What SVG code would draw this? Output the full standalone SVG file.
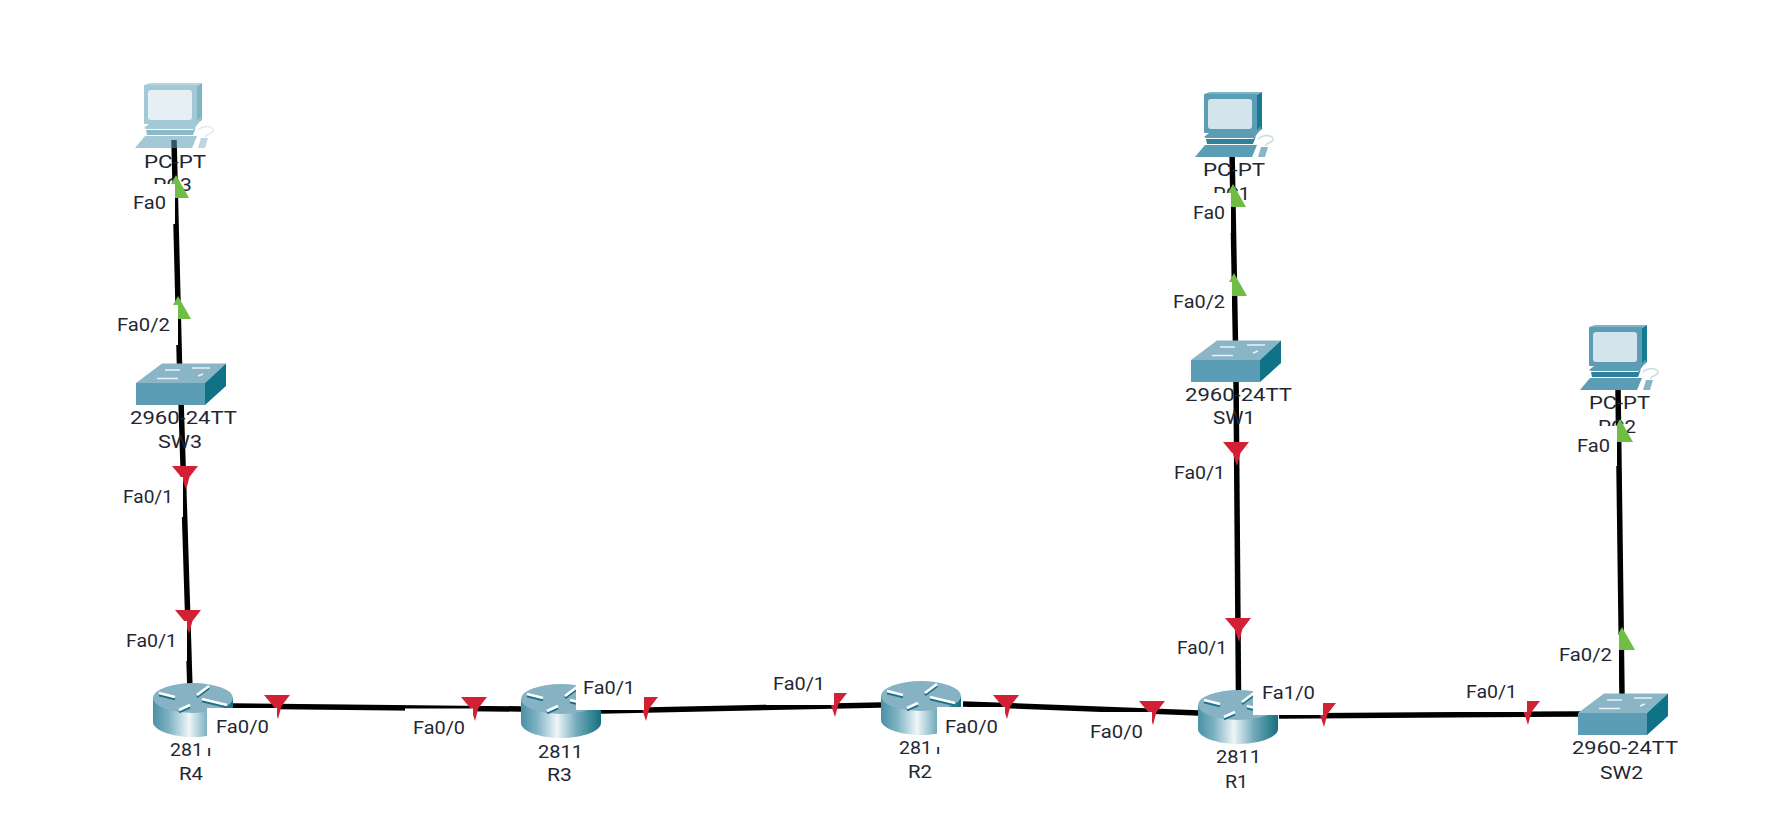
<svg xmlns="http://www.w3.org/2000/svg" width="1778" height="818" viewBox="0 0 1778 818">
<style>
text{font-family:Roboto,"Liberation Sans",sans-serif;font-size:18px;fill:#1f2733}
.link{stroke:#000;stroke-width:5.5;fill:none;stroke-linecap:butt}
.box{fill:#fff}
.red{fill:#d22134}
.green{fill:#6fbd45}
</style>
<defs>
<linearGradient id="rb" x1="0" x2="1" y1="0" y2="0">
<stop offset="0" stop-color="#4a91a6"/><stop offset=".2" stop-color="#7db2c2"/><stop offset=".45" stop-color="#eef6f8"/><stop offset=".7" stop-color="#70a9ba"/><stop offset="1" stop-color="#14707f"/>
</linearGradient>
<g id="router">
<path d="M0 15V39C0 47 18 54 40 54S80 47 80 39V15Z" fill="url(#rb)"/>
<ellipse cx="40" cy="15" rx="40" ry="15" fill="#86b2c4"/>
<g fill="none" stroke="#1d7186" stroke-width="2.600"><path d="M6 12L22 16M44 14L56 5M49 18L74 24M26 29L37 24"/></g>
<g fill="none" stroke="#fff" stroke-width="2.600"><path d="M6 10L22 14M44 12L56 3M49 16L74 22M26 27L37 22"/></g>
</g>
<g id="switch">
<rect x="0" y="0" width="69" height="22" fill="#5a9db4"/>
<path d="M0 0L26-19.500H90L69 0Z" fill="#8ab5c6"/>
<path d="M69 0L90-19.500V3L69 22Z" fill="#0f7287"/>
<g stroke="#eaf3f6" stroke-width="1.600" fill="none"><path d="M29-13H44M56-15H74M21-4.500H42M62-7L67-9"/></g>
</g>
<g id="pc">
<path d="M1 2L7 0H59L54 3Z" fill="#7fb3c6"/>
<path d="M54 3L59 0V37L54 41Z" fill="#167a93"/>
<rect x="1" y="2" width="53" height="39" rx="1" fill="#5a9db5"/>
<rect x="5" y="7" width="44" height="30" rx="3" fill="#d3e4ec"/>
<path d="M1 45L6 41H51L58 34V37L51 46H3Z" fill="#5a9db5"/>
<path d="M3 47H50L53 44L50 52H4Z" fill="#2d8199"/>
<path d="M-8 65L2 53H54L49 65Z" fill="#5a9db5"/>
<path d="M55 65L58 55H65L62 65Z" fill="#8ab5c6"/>
<path d="M55 47C62 41 71 44 70 48C69 51 64 50 62 54" fill="none" stroke="#c9dce4" stroke-width="1.500"/>
</g>
<path id="tr" d="M-13 0H13L4.500 11L1 24L-3 12Z"/>
<path id="tg" d="M0 0L13 23H-13Z"/>
</defs>
<rect width="1778" height="818" fill="#fff"/>
<g id="connectors">
<path class="link" d="M174 140L179.500 365"/>
<path class="link" d="M181 400L190 690"/>
<path class="link" d="M233 706L521 709"/>
<path class="link" d="M601 711L881 705"/>
<path class="link" d="M963 704L1199 713"/>
<path class="link" d="M1279 716L1580 714"/>
<path class="link" d="M1232 150L1235.500 345"/>
<path class="link" d="M1236 375L1238.500 695"/>
<path class="link" d="M1618 388L1622 695"/>
</g>
<g id="PC3"><use href="#pc" x="143" y="83" opacity=".55"/><text x="144" y="168" textLength="62" lengthAdjust="spacingAndGlyphs">PC-PT</text><text x="153" y="191" textLength="39" lengthAdjust="spacingAndGlyphs">PC3</text></g>
<g id="PC1"><use href="#pc" x="1203" y="92"/><text x="1203" y="176" textLength="62" lengthAdjust="spacingAndGlyphs">PC-PT</text><text x="1213" y="200" textLength="37" lengthAdjust="spacingAndGlyphs">PC1</text></g>
<g id="PC2"><use href="#pc" x="1588" y="325"/><text x="1589" y="409" textLength="61" lengthAdjust="spacingAndGlyphs">PC-PT</text><text x="1598" y="433" textLength="38" lengthAdjust="spacingAndGlyphs">PC2</text></g>
<g id="SW3"><use href="#switch" x="136" y="383"/><text x="130" y="424" textLength="107" lengthAdjust="spacingAndGlyphs">2960-24TT</text><text x="158" y="448" textLength="44" lengthAdjust="spacingAndGlyphs">SW3</text></g>
<g id="SW1"><use href="#switch" x="1191" y="360"/><text x="1185" y="401" textLength="107" lengthAdjust="spacingAndGlyphs">2960-24TT</text><text x="1213" y="424" textLength="42" lengthAdjust="spacingAndGlyphs">SW1</text></g>
<g id="SW2"><use href="#switch" x="1578" y="713"/><text x="1572" y="754" textLength="106" lengthAdjust="spacingAndGlyphs">2960-24TT</text><text x="1600" y="779" textLength="43" lengthAdjust="spacingAndGlyphs">SW2</text></g>
<g id="R4"><use href="#router" x="153" y="683"/><text x="170" y="756" textLength="44" lengthAdjust="spacingAndGlyphs">2811</text><text x="179" y="780" textLength="24" lengthAdjust="spacingAndGlyphs">R4</text></g>
<g id="R3"><use href="#router" x="521" y="684"/><text x="538" y="758" textLength="45" lengthAdjust="spacingAndGlyphs">2811</text><text x="547" y="781" textLength="25" lengthAdjust="spacingAndGlyphs">R3</text></g>
<g id="R2"><use href="#router" x="881" y="681"/><text x="899" y="754" textLength="44" lengthAdjust="spacingAndGlyphs">2811</text><text x="908" y="778" textLength="24" lengthAdjust="spacingAndGlyphs">R2</text></g>
<g id="R1"><use href="#router" x="1198" y="690"/><text x="1216" y="763" textLength="45" lengthAdjust="spacingAndGlyphs">2811</text><text x="1225" y="788" textLength="23" lengthAdjust="spacingAndGlyphs">R1</text></g>
<g id="link-lights">
<use href="#tg" class="green" x="176" y="175"/>
<use href="#tg" class="green" x="178" y="296"/>
<use href="#tg" class="green" x="1233" y="184"/>
<use href="#tg" class="green" x="1234" y="273"/>
<use href="#tg" class="green" x="1620" y="419"/>
<use href="#tg" class="green" x="1622" y="627"/>
<use href="#tr" class="red" x="185" y="466"/>
<use href="#tr" class="red" x="188" y="610"/>
<use href="#tr" class="red" x="277" y="695"/>
<use href="#tr" class="red" x="474" y="697"/>
<use href="#tr" class="red" x="645" y="697"/>
<use href="#tr" class="red" x="834" y="693"/>
<use href="#tr" class="red" x="1006" y="695"/>
<use href="#tr" class="red" x="1152" y="701"/>
<use href="#tr" class="red" x="1236" y="442"/>
<use href="#tr" class="red" x="1238" y="618"/>
<use href="#tr" class="red" x="1323" y="703"/>
<use href="#tr" class="red" x="1527" y="701"/>
</g>
<g id="port-labels">
<rect class="box" x="128" y="184" width="47" height="40"/><text x="133" y="209" textLength="33" lengthAdjust="spacingAndGlyphs">Fa0</text>
<rect class="box" x="109" y="305" width="69" height="40"/><text x="117" y="331" textLength="53" lengthAdjust="spacingAndGlyphs">Fa0/2</text>
<rect class="box" x="115" y="477" width="68" height="40"/><text x="123" y="503" textLength="50" lengthAdjust="spacingAndGlyphs">Fa0/1</text>
<rect class="box" x="118" y="621" width="69" height="40"/><text x="126" y="647" textLength="51" lengthAdjust="spacingAndGlyphs">Fa0/1</text>
<path class="box" d="M207 708H277V748H207V758H203V740H207Z"/><text x="216" y="733" textLength="53" lengthAdjust="spacingAndGlyphs">Fa0/0</text>
<rect class="box" x="405" y="708.500" width="68" height="40"/><text x="413" y="734" textLength="52" lengthAdjust="spacingAndGlyphs">Fa0/0</text>
<rect class="box" x="576" y="669" width="68" height="41"/><text x="583" y="694" textLength="52" lengthAdjust="spacingAndGlyphs">Fa0/1</text>
<rect class="box" x="766" y="665" width="68" height="40"/><text x="773" y="690" textLength="52" lengthAdjust="spacingAndGlyphs">Fa0/1</text>
<path class="box" d="M937 707H1005V747H937V756H933V738H937Z"/><text x="945" y="733" textLength="53" lengthAdjust="spacingAndGlyphs">Fa0/0</text>
<rect class="box" x="1082" y="712" width="70" height="40"/><text x="1090" y="738" textLength="53" lengthAdjust="spacingAndGlyphs">Fa0/0</text>
<rect class="box" x="1253" y="674" width="70" height="41"/><text x="1262" y="699" textLength="53" lengthAdjust="spacingAndGlyphs">Fa1/0</text>
<rect class="box" x="1458" y="672" width="69" height="40"/><text x="1466" y="698" textLength="51" lengthAdjust="spacingAndGlyphs">Fa0/1</text>
<rect class="box" x="1552" y="635" width="67" height="40"/><text x="1559" y="661" textLength="53" lengthAdjust="spacingAndGlyphs">Fa0/2</text>
<rect class="box" x="1570" y="426" width="47" height="40"/><text x="1577" y="452" textLength="33" lengthAdjust="spacingAndGlyphs">Fa0</text>
<rect class="box" x="1168" y="628" width="66" height="40"/><text x="1177" y="654" textLength="50" lengthAdjust="spacingAndGlyphs">Fa0/1</text>
<rect class="box" x="1166" y="453" width="67" height="40"/><text x="1174" y="479" textLength="51" lengthAdjust="spacingAndGlyphs">Fa0/1</text>
<rect class="box" x="1165" y="282" width="67" height="40"/><text x="1173" y="308" textLength="52" lengthAdjust="spacingAndGlyphs">Fa0/2</text>
<rect class="box" x="1186" y="193" width="45" height="40"/><text x="1193" y="219" textLength="32" lengthAdjust="spacingAndGlyphs">Fa0</text>
</g>
</svg>
